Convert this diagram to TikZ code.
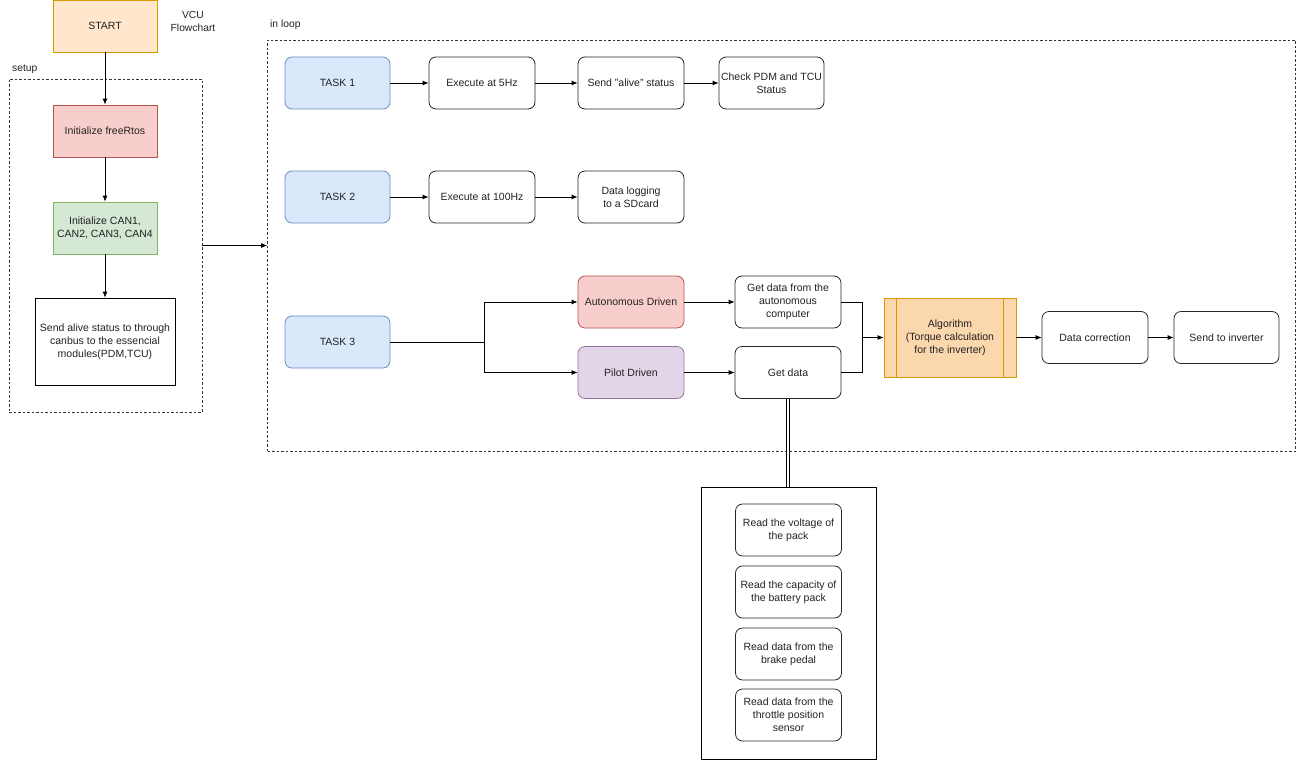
\documentclass[tikz,border=0pt]{standalone}
\usepackage{fontspec}
\setmainfont{Liberation Sans}
\usetikzlibrary{arrows.meta}
\definecolor{orfill}{HTML}{FFE6CC}
\definecolor{ordraw}{HTML}{D79B00}
\definecolor{redfill}{HTML}{F8CECC}
\definecolor{reddraw}{HTML}{B85450}
\definecolor{grfill}{HTML}{D5E8D4}
\definecolor{grdraw}{HTML}{82B366}
\definecolor{blfill}{HTML}{DAE8FC}
\definecolor{bldraw}{HTML}{6C8EBF}
\definecolor{pufill}{HTML}{E1D5E7}
\definecolor{pudraw}{HTML}{9673A6}
\definecolor{algfill}{HTML}{FAD7AC}
\definecolor{txt}{HTML}{222222}
\tikzset{
  every node/.style={font=\fontsize{10.5}{13}\selectfont, text=txt},
  plainbox/.style={draw, align=center, minimum width=104pt, minimum height=52pt, inner sep=1pt, line width=0.8pt},
  rbox/.style={plainbox, rounded corners=7pt, minimum width=106pt, draw=black!85},
  dashbox/.style={draw=black!80, dash pattern=on 2.5pt off 2pt, line width=0.7pt, inner sep=0pt},
  arrow/.style={draw, line width=0.8pt, -{Latex[length=6pt,width=5pt]}},
  conn/.style={draw, line width=0.8pt},
  lbl/.style={anchor=west, inner sep=0pt, font=\fontsize{10.3}{12}\selectfont}
}
\begin{document}
\begin{tikzpicture}[x=1pt,y=-1pt]
\useasboundingbox (0,0) rectangle (1297,760);

% containers
\node[dashbox, minimum width=193pt, minimum height=333pt] (setup) at (105.5,245.5) {};
\node[dashbox, minimum width=1028pt, minimum height=411pt] (loop) at (781.5,245.5) {};
\node[lbl] (setuplbl) at (12,69) {setup};
\node[lbl] (looplbl) at (270,25) {in loop};
\node[align=center, font=\fontsize{10.3}{12.8}\selectfont] (title) at (193,21.5) {VCU\\Flowchart};

% setup column
\node[plainbox, fill=orfill, draw=ordraw] (start) at (105,26) {START};
\node[plainbox, fill=redfill, draw=reddraw] (rtos) at (105,131) {Initialize freeRtos};
\node[plainbox, fill=grfill, draw=grdraw] (can) at (105,228) {Initialize CAN1,\\CAN2, CAN3, CAN4};
\node[plainbox, minimum width=140pt, minimum height=87pt] (alive) at (105,341.5) {Send alive status to through\\canbus to the essencial\\modules(PDM,TCU)};

\draw[arrow] (start) -- (rtos);
\draw[arrow] (rtos) -- (can);
\draw[arrow] (can) -- (alive);
\draw[arrow] (setup.east) -- (loop.west);

% task 1
\node[rbox, fill=blfill, draw=bldraw, minimum width=105pt] (t1) at (337.5,83) {TASK 1};
\node[rbox] (e5) at (482,83) {Execute at 5Hz};
\node[rbox] (sa) at (631,83) {Send "alive" status};
\node[rbox, minimum width=105pt] (chk) at (771.5,83) {Check PDM and TCU\\Status};
\draw[arrow] (t1) -- (e5);
\draw[arrow] (e5) -- (sa);
\draw[arrow] (sa) -- (chk);

% task 2
\node[rbox, fill=blfill, draw=bldraw, minimum width=105pt] (t2) at (337.5,197) {TASK 2};
\node[rbox] (e100) at (482,197) {Execute at 100Hz};
\node[rbox] (log) at (631,197) {Data logging\\to a SDcard};
\draw[arrow] (t2) -- (e100);
\draw[arrow] (e100) -- (log);

% task 3
\node[rbox, fill=blfill, draw=bldraw, minimum width=105pt] (t3) at (337.5,342) {TASK 3};
\node[rbox, fill=redfill, draw=reddraw] (auto) at (631,302) {Autonomous Driven};
\node[rbox, fill=pufill, draw=pudraw] (pilot) at (631,372.5) {Pilot Driven};
\node[rbox] (gda) at (788,302) {Get data from the\\autonomous\\computer};
\node[rbox] (gd) at (788,372.5) {Get data};
\node[plainbox, fill=algfill, draw=ordraw, minimum width=132pt, minimum height=79pt] (algo) at (950,337.5) {Algorithm\\(Torque calculation\\for the inverter)};
\draw[draw=ordraw, line width=0.8pt] ([xshift=13pt]algo.north west) -- ([xshift=13pt]algo.south west);
\draw[draw=ordraw, line width=0.8pt] ([xshift=-13pt]algo.north east) -- ([xshift=-13pt]algo.south east);
\node[rbox] (corr) at (1095,337.5) {Data correction};
\node[rbox, minimum width=105pt] (inv) at (1226.5,337.5) {Send to inverter};

\coordinate (split) at (484,342);
\coordinate (merge) at (862,337.5);
\draw[conn] (t3.east) -- (split);
\draw[arrow] (split) |- (auto.west);
\draw[arrow] (split) |- (pilot.west);
\draw[arrow] (auto) -- (gda);
\draw[arrow] (pilot) -- (gd);
\draw[conn] (gda.east) -| (merge);
\draw[conn] (gd.east) -| (merge);
\draw[arrow] (merge) -- (algo.west);
\draw[arrow] (algo) -- (corr);
\draw[arrow] (corr) -- (inv);

% readings
\node[plainbox, minimum width=175pt, minimum height=272pt] (reads) at (788.5,623) {};
\node[rbox] (r1) at (788.5,530) {Read the voltage of\\the pack};
\node[rbox] (r2) at (788.5,592) {Read the capacity of\\the battery pack};
\node[rbox] (r3) at (788.5,654) {Read data from the\\brake pedal};
\node[rbox] (r4) at (788.5,715) {Read data from the\\throttle position\\sensor};
\draw[double, double distance=2pt, line width=0.7pt] (gd.south) -- (gd.south |- reads.north);
\end{tikzpicture}
\end{document}
